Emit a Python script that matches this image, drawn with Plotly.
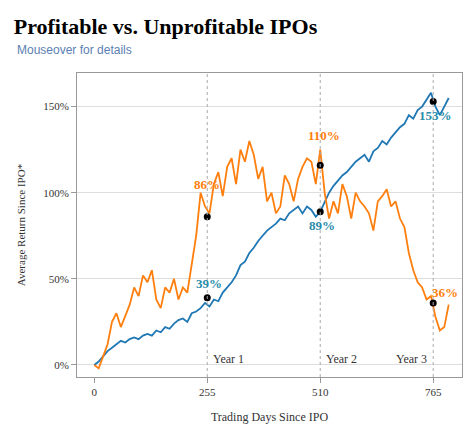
import plotly.graph_objects as go

days = list(range(0, 810, 10))
profitable = [0,2,5,8,10,12,14,13,15,16,15,17,18,17,20,19,22,21,24,26,27,25,30,31,33,36,34,38,37,42,45,48,52,58,60,65,68,72,75,78,80,82,85,84,88,90,92,88,92,90,86,89,95,100,104,107,110,112,115,118,120,122,118,124,126,130,128,132,135,138,140,145,143,148,150,154,158,150,145,150,155]
unprofitable = [0,-2,5,12,25,30,22,28,35,45,40,52,48,55,38,33,45,42,50,38,45,42,60,75,100,92,88,105,112,98,115,120,105,125,118,130,122,108,115,95,100,88,92,110,105,95,108,115,120,118,105,125,100,85,95,88,105,98,85,100,95,92,88,78,95,98,102,92,95,85,80,65,55,48,45,38,40,28,20,22,35]
year_days = [255, 510, 765]
year_labels = ["Year 1", "Year 2", "Year 3"]
prof_marks = [39, 89, 153]
unprof_marks = [86, 116, 36]
unprof_text = ["86%", "110%", "36%"]
prof_text = ["39%", "89%", "153%"]

BLUE = "#1f77b4"; ORANGE = "#ff7f0e"
SERIF = "Liberation Serif, DejaVu Serif, serif"

fig = go.Figure()
fig.add_trace(go.Scatter(x=days, y=profitable, mode="lines", line=dict(color=BLUE, width=1.8), hoverinfo="skip"))
fig.add_trace(go.Scatter(x=days, y=unprofitable, mode="lines", line=dict(color=ORANGE, width=1.8), hoverinfo="skip"))
fig.add_trace(go.Scatter(x=year_days, y=prof_marks, mode="markers", marker=dict(color="black", size=7)))
fig.add_trace(go.Scatter(x=year_days, y=unprof_marks, mode="markers", marker=dict(color="black", size=7)))

for d in year_days:
    fig.add_vline(x=d, line=dict(color="#aaaaaa", width=1, dash="dot"))
for d, t, xa, xs in zip(year_days, year_labels, ["left", "left", "right"], [4, 4, -4]):
    fig.add_annotation(x=d, y=-2, text=t, showarrow=False, xanchor=xa, yanchor="bottom", xshift=xs,
                       font=dict(family=SERIF, size=12, color="#333"))
ushift = [(0, 32), (4, 30), (12, 10)]
for d, v, t, (dx, dy) in zip(year_days, unprof_marks, unprof_text, ushift):
    fig.add_annotation(x=d, y=v, text="<b>" + t + "</b>", showarrow=False, xshift=dx, yshift=dy,
                       font=dict(family=SERIF, size=13, color=ORANGE))
pshift = [(2, 14), (2, -14), (2, -14)]
for d, v, t, (dx, dy) in zip(year_days, prof_marks, prof_text, pshift):
    fig.add_annotation(x=d, y=v, text="<b>" + t + "</b>", showarrow=False, xshift=dx, yshift=dy,
                       font=dict(family=SERIF, size=13, color="#2a8caa"))

fig.update_layout(
    width=474, height=426, showlegend=False, plot_bgcolor="white", paper_bgcolor="white",
    margin=dict(l=48, r=20, t=65, b=54),
    title=dict(text="<b>Profitable vs. Unprofitable IPOs</b>", x=0.012, y=0.975, yanchor="top",
               font=dict(family=SERIF, size=22, color="black")),
    xaxis=dict(range=[-39, 830], tickvals=[0, 255, 510, 765], showgrid=False, zeroline=False,
               showline=True, mirror=True, linecolor="#999", ticks="outside", tickcolor="#999",
               tickfont=dict(family=SERIF, size=11, color="#333"),
               title=dict(text="Trading Days Since IPO", font=dict(family=SERIF, size=12, color="#333"))),
    yaxis=dict(range=[-7, 169.5], tickvals=[0, 50, 100, 150], ticktext=["0%", "50%", "100%", "150%"],
               showgrid=True, gridcolor="#dddddd", zeroline=False, showline=True, mirror=True,
               linecolor="#999", ticks="outside", tickcolor="#999",
               tickfont=dict(family=SERIF, size=11, color="#333"),
               title=dict(text="Average Return Since IPO*", font=dict(family=SERIF, size=11, color="#333"))),
)
fig.add_annotation(xref="paper", yref="paper", x=-0.16, y=1.105, xanchor="left", showarrow=False,
                   text="Mouseover for details", font=dict(family="Liberation Sans, Arial", size=12, color="#5b80b2"))
fig.write_html("out.html")
